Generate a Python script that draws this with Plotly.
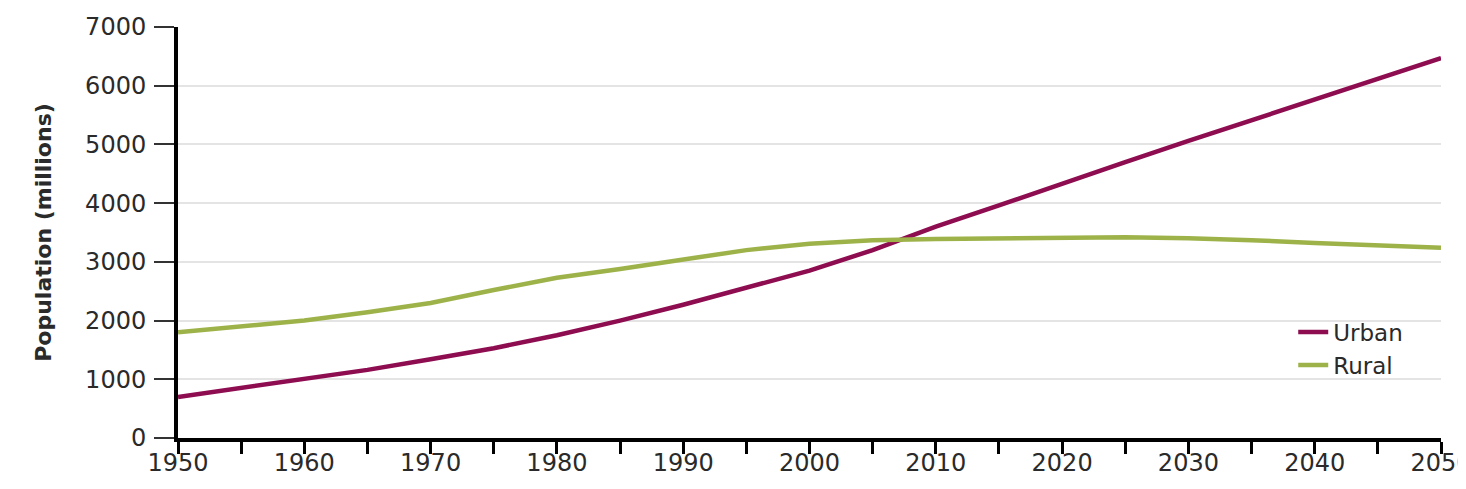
import plotly.graph_objects as go

years = [1950, 1955, 1960, 1965, 1970, 1975, 1980, 1985, 1990, 1995, 2000,
         2005, 2010, 2015, 2020, 2025, 2030, 2035, 2040, 2045, 2050]
urban = [700, 850, 1000, 1160, 1340, 1530, 1750, 2000, 2270, 2560, 2850,
         3200, 3600, 3960, 4340, 4700, 5060, 5410, 5760, 6110, 6470]
rural = [1800, 1900, 2000, 2140, 2300, 2520, 2730, 2880, 3040, 3200, 3310,
         3370, 3390, 3400, 3410, 3420, 3400, 3370, 3320, 3280, 3240]
y_ticks = [0, 1000, 2000, 3000, 4000, 5000, 6000, 7000]
x_ticks = [1950, 1960, 1970, 1980, 1990, 2000, 2010, 2020, 2030, 2040, 2050]

FONT = "DejaVu Sans"
TXT = "#2a2a2a"

fig = go.Figure()
fig.add_trace(go.Scatter(x=years, y=urban, mode="lines", name="Urban",
                         line=dict(color="#8e0c50", width=4.5)))
fig.add_trace(go.Scatter(x=years, y=rural, mode="lines", name="Rural",
                         line=dict(color="#9db34a", width=4.5)))

# page body has an 8px default margin, so the figure is sized/offset to compensate
fig.update_layout(
    width=1458, height=481,
    margin=dict(l=170, r=25, t=19, b=51, autoexpand=False),
    paper_bgcolor="white", plot_bgcolor="white",
    font=dict(family=FONT, size=24, color=TXT),
    legend=dict(x=0.883, y=0.31, xanchor="left", yanchor="top",
                bgcolor="rgba(0,0,0,0)", font=dict(size=23, color=TXT),
                tracegroupgap=0),
    showlegend=True,
)
fig.update_xaxes(
    range=[1950, 2050], tickvals=x_ticks, ticktext=[str(v) for v in x_ticks],
    showgrid=False, zeroline=False, automargin=False,
    showline=True, linecolor="black", linewidth=4,
    ticks="outside", ticklen=12, tickwidth=3, tickcolor="black",
    minor=dict(ticks="outside", dtick=5, ticklen=12, tickwidth=3, tickcolor="black", showgrid=False),
    tickfont=dict(family=FONT, size=24, color=TXT),
    ticklabeloverflow="allow", ticklabelstandoff=-12,
)
fig.update_yaxes(
    range=[0, 7000], tickvals=y_ticks, ticktext=[str(v) for v in y_ticks],
    showgrid=True, gridcolor="#e4e4e4", gridwidth=1.5, zeroline=False, automargin=False,
    showline=True, linecolor="black", linewidth=4,
    ticks="outside", ticklen=20, tickwidth=2, tickcolor="#333333",
    ticklabelstandoff=3, ticklabeloverflow="allow",
    tickfont=dict(family=FONT, size=24, color=TXT),
    title=dict(text="<b>Population (millions)</b>", standoff=28,
               font=dict(family=FONT, size=22, color=TXT)),
)

fig.write_html("out.html")
